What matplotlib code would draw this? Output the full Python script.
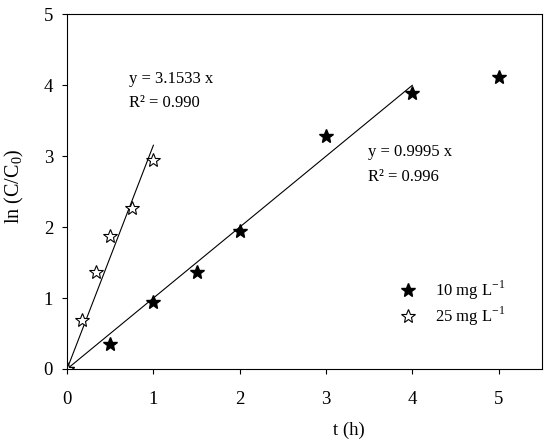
import numpy as np
import matplotlib.pyplot as plt

plt.rcParams['font.family'] = ['Liberation Serif', 'DejaVu Serif']
plt.rcParams['mathtext.fontset'] = 'custom'
plt.rcParams['mathtext.rm'] = 'Liberation Serif'

# data
t_10 = [0, 0.5, 1, 1.5, 2, 3, 4, 5]
ln_10 = [0, 0.35, 0.94, 1.37, 1.94, 3.29, 3.89, 4.12]
t_25 = [0, 0.167, 0.333, 0.5, 0.75, 1]
ln_25 = [0, 0.69, 1.37, 1.88, 2.27, 2.95]

# fitted slopes (through origin)
k_10 = 0.9995
k_25 = 3.1533
fit_end_10 = 4
fit_end_25 = 1

fig = plt.figure(figsize=(5.5, 4.44), dpi=100)
ax = fig.add_axes([0.122, 0.169, 0.863, 0.799])

xf = np.array([0, fit_end_25])
ax.plot(xf, k_25 * xf, 'k-', lw=0.8)
xf = np.array([0, fit_end_10])
ax.plot(xf, k_10 * xf, 'k-', lw=0.8)

ax.plot(t_10, ln_10, '*', color='k', ms=10, ls='none', label='10 mg L$^{-1}$')
ax.plot(t_25, ln_25, '*', mfc='white', mec='k', mew=0.8, ms=10, ls='none',
        label='25 mg L$^{-1}$')

ax.text(0.72, 4.08, 'y = 3.1533 x', fontsize=12, va='center')
ax.text(0.72, 3.75, 'R² = 0.990', fontsize=12, va='center')
ax.text(3.49, 3.06, 'y = 0.9995 x', fontsize=12, va='center')
ax.text(3.49, 2.71, 'R² = 0.996', fontsize=12, va='center')

ax.set_xlim(0, 5.5)
ax.set_ylim(0, 5)
ax.set_xticks([0, 1, 2, 3, 4, 5])
ax.set_yticks([0, 1, 2, 3, 4, 5])
ax.tick_params(direction='out', length=3.6, labelsize=13.5, top=False, right=False)
ax.tick_params(axis='x', pad=12)
ax.tick_params(axis='y', pad=6.5)
ax.set_xlabel('t (h)', fontsize=13.5)
ax.xaxis.set_label_coords(0.594, -0.148)
ax.set_ylabel('ln (C/C$_0$)', fontsize=14.5)
ax.yaxis.set_label_coords(-0.086, 0.515)

ax.legend(loc='center left', bbox_to_anchor=(0.652, 0.185), frameon=False,
          fontsize=12, handletextpad=0.6, labelspacing=0.15)

fig.savefig('out.png', dpi=100)
